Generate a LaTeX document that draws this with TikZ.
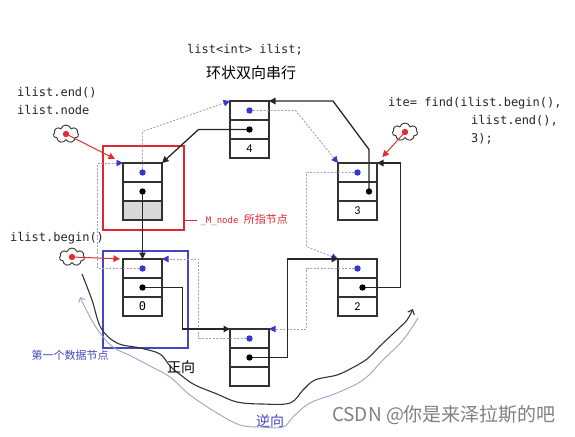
\documentclass[tikz,border=0pt]{standalone}
\usepackage{fontspec}
\setmainfont{Carlito}
\newfontfamily\cjk{Noto Sans CJK SC}
\newfontfamily\codefont{DejaVu Sans Mono}
\usetikzlibrary{positioning,arrows.meta,shapes.symbols}

\definecolor{boxgray}{RGB}{50,50,50}
\definecolor{ptrblue}{RGB}{55,55,200}
\definecolor{dashblue}{RGB}{160,160,208}
\definecolor{ptrred}{RGB}{225,45,45}
\definecolor{framered}{RGB}{220,40,50}
\definecolor{frameblue}{RGB}{70,70,190}

\tikzset{
  cell/.style={draw=boxgray, line width=1.6pt, minimum width=39pt, minimum height=19pt,
               inner sep=0pt, outer sep=0pt, font=\fontsize{12}{12}\selectfont},
  nxt/.style={draw=black!85, line width=1.3pt, -{Triangle[length=6.5pt,width=6.5pt]}},
  prv/.style={draw=dashblue, line width=0.9pt, dash pattern=on 2pt off 1.5pt,
              -{Triangle[length=6.5pt,width=6.5pt,color=ptrblue]}},
  redptr/.style={draw=ptrred, line width=1pt, -{Triangle[length=6.5pt,width=6.5pt]}},
  bubble/.style={draw=black!80, cloud, cloud puffs=7, aspect=1.3, minimum width=25pt,
                 minimum height=18pt, inner sep=0pt, line width=0.9pt},
  codetxt/.style={font=\codefont\fontsize{12}{18}\selectfont, text=black!85},
  cjktxt/.style={font=\cjk\fontsize{#1}{#1}\selectfont},
}

\begin{document}
\begin{tikzpicture}[x=1pt, y=-1pt]
\useasboundingbox (0,0) rectangle (575,436);

% frames
\node(frEnd)   [draw=framered, line width=2pt, minimum width=81pt, minimum height=84pt]  at (143.5,188) {};
\node(frBegin) [draw=frameblue, line width=2pt, minimum width=85pt, minimum height=97pt] at (145.5,299.5) {};

% list nodes
\node(nAa)  [cell]                               at (142.5,172.5) {};
\node(nAb)  [cell, below=0pt of nAa]             {};
\node(nAc)  [cell, fill=black!15, below=0pt of nAb] {};
\node(n4a)  [cell]                               at (249.5,110.5) {};
\node(n4b)  [cell, below=0pt of n4a]             {};
\node(n4c)  [cell, below=0pt of n4b]             {4};
\node(n3a)  [cell]                               at (357.5,172.5) {};
\node(n3b)  [cell, below=0pt of n3a]             {};
\node(n3c)  [cell, below=0pt of n3b]             {3};
\node(n2a)  [cell]                               at (357.5,268.5) {};
\node(n2b)  [cell, below=0pt of n2a]             {};
\node(n2c)  [cell, below=0pt of n2b]             {2};
\node(n1a)  [cell]                               at (249.5,338.5) {};
\node(n1b)  [cell, below=0pt of n1a]             {};
\node(n1c)  [cell, below=0pt of n1b]             {};
\node(n0a)  [cell]                               at (142.5,268.5) {};
\node(n0b)  [cell, below=0pt of n0a]             {};
\node(n0c)  [cell, below=0pt of n0b]             {\codefont 0};

\coordinate(d2) at ([xshift=5pt]n2b.center);
\coordinate(d3) at ([xshift=11.5pt]n3b.center);

% prev pointers
\draw[prv] (nAa.center) -- ++(0,-41) -- (n4a.north west);
\draw[prv] (n4a.center) -- ++(46,0) -- (n3a.north west);
\draw[prv] (n3a.center) -- ++(-51,0) -- ++(0,74) -- (n2a.north west);
\draw[prv] (n2a.center) -- ++(-51,0) |- (n1a.north east);
\draw[prv] (n1a.center) -- ++(-51,0) |- (n0a.north east);
\draw[prv] (n0a.center) -- ++(-45,0) |- (nAa.north west);

% next pointers
\draw[nxt] (nAb.center) -- (n0a.north);
\draw[nxt] (n0b.center) -- ++(40,0) |- (n1a.north west);
\draw[nxt] (n1b.center) -- ++(38,0) |- (n2a.north west);
\draw[nxt] (d2)         -- ++(38,0) |- (n3a.north east);
\draw[nxt] (d3)         -- ++(0,-42) -- ([xshift=64pt]n4a.north east) -- (n4a.north east);
\draw[nxt] (n4b.center) -- ++(-51,0) -- (nAa.north east);

% dots
\fill[ptrblue] (nAa) circle (3.2pt) (n4a) circle (3.2pt) (n3a) circle (3.2pt)
               (n2a) circle (3.2pt) (n1a) circle (3.2pt) (n0a) circle (3.2pt);
\fill[black]   (nAb) circle (3.2pt) (n4b) circle (3.2pt) (d3) circle (3.2pt)
               (d2) circle (3.2pt) (n1b) circle (3.2pt) (n0b) circle (3.2pt);

% iterators
\node(cEnd)   [bubble] at (66,134)  {};
\node(cBegin) [bubble] at (72,257)  {};
\node(cIte)   [bubble] at (405,132) {};
\fill[ptrred] (cEnd) circle (3.2pt) (cBegin) circle (3.2pt) (cIte) circle (3.2pt);
\draw[redptr, shorten >=9pt] (cEnd.center)   -- (nAa.north west);
\draw[redptr, shorten >=3pt] (cBegin.center) -- (n0a.north west);
\draw[redptr, shorten >=8pt] (cIte.center)   -- (n3a.north east);

% labels
\node(tDecl)  [codetxt]         at (245,50)  {list<int> ilist;};
\node(tTitle) [cjktxt=15]       at (251,73)  {环状双向串行};
\node(tEnd)   [codetxt, align=left, anchor=north west, inner sep=0pt] at (17,87) {ilist.end()\\ilist.node};
\node(tBegin) [codetxt]         at (57,238)  {ilist.begin()};
\node(tFind)  [codetxt, align=left, anchor=north west, inner sep=0pt] at (388,97)
              {ite= find(ilist.begin(),\\\hspace*{83pt}ilist.end(),\\\hspace*{83pt}3);};
\node(tMnode) [text=framered, anchor=west, font=\codefont\fontsize{9}{10}\selectfont] at (197,220)
              {\_M\_node {\cjk\fontsize{11}{11}\selectfont 所指节点}};
\draw[framered, line width=1pt] (tMnode.west) -- (tMnode.west -| frEnd.east);
\node(tFirst) [cjktxt=11, text=frameblue] at (70,355)  {第一个数据节点};
\node(tFwd)   [cjktxt=14]                 at (181,367) {正向};
\node(tBwd)   [cjktxt=14, text=frameblue] at (270,421) {逆向};
\node(tMark)  [cjktxt=19, text=black!50]  at (444,415) {CSDN @你是来泽拉斯的吧};

% direction strokes
\draw[black!80, line width=1.1pt, -{Straight Barb[length=4pt,width=7pt]}]
  plot[smooth, tension=0.6] coordinates {(82,274) (92,300) (101,328) (117,343) (140,348)
  (160,354) (170,366) (182,376) (195,385) (217,394) (237,402) (262,404) (290,403) (303,390)
  (315,380) (337,375) (352,368) (367,359) (380,346) (397,330) (407,320) (413,309)};
\draw[dashblue, line width=0.9pt, -{Straight Barb[length=4pt,width=7pt]}]
  plot[smooth, tension=0.6] coordinates {(418,318) (403,340) (383,360) (363,380) (337,393)
  (310,403) (293,417) (283,427) (260,427) (240,425) (217,413) (190,395) (170,377) (150,366)
  (133,357) (113,347) (100,333) (90,317) (80,297)};
\end{tikzpicture}
\end{document}
